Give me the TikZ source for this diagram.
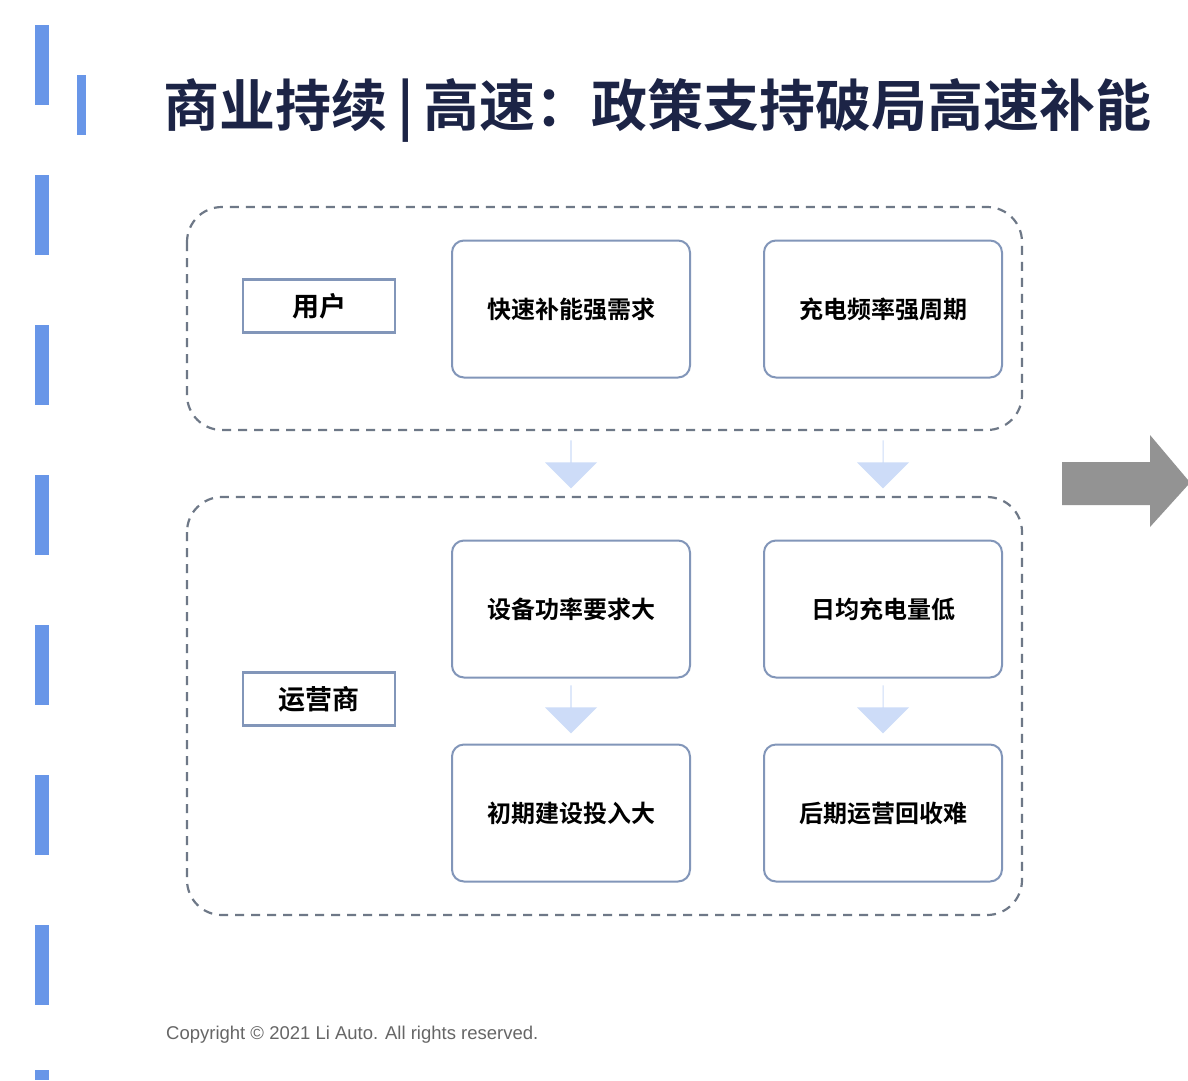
\documentclass[tikz,border=0pt]{standalone}
\usepackage{fontspec}
\setmainfont{Liberation Sans}
\newfontfamily\cjk{Noto Sans CJK SC Bold}
\usetikzlibrary{shapes.arrows}
\definecolor{barblue}{RGB}{104,150,232}
\definecolor{navy}{RGB}{28,36,70}
\definecolor{boxline}{RGB}{130,150,185}
\definecolor{dashgray}{RGB}{110,120,135}
\definecolor{arrblue}{RGB}{205,220,248}
\tikzset{
  grp/.style={draw=dashgray,line width=2.2pt,dash pattern=on 9pt off 7pt,rounded corners=35pt},
  item/.style={draw=boxline,line width=2pt,rounded corners=12pt,minimum width=238pt,minimum height=137pt,font=\cjk\fontsize{24}{28}\selectfont,text=black},
  role/.style={draw=boxline,line width=2.2pt,minimum width=152pt,minimum height=53pt,font=\cjk\fontsize{27}{30}\selectfont,text=black},
  down/.style={single arrow,fill=arrblue,draw=none,shape border rotate=270,minimum width=52pt,single arrow head extend=10pt,minimum height=48pt,inner sep=0pt,single arrow head indent=0pt}
}
\begin{document}
\begin{tikzpicture}[x=1pt,y=-1pt]
\useasboundingbox (0,0) rectangle (1188,1080);
\fill[white] (0,0) rectangle (1188,1080);
\foreach \y in {25,175,325,475,625,775,925,1070}
  \fill[barblue] (35,\y) rectangle (49,{min(\y+80,1080)});
\fill[barblue] (77,75) rectangle (86,135);
\node[anchor=west,text=navy,font=\cjk\fontsize{56}{60}\selectfont,inner sep=0] (title) at (163,110) {商业持续\hspace{10pt}|\hspace{10pt}高速：政策支持破局高速补能};
\draw[grp] (187,207) rectangle (1022,430);
\draw[grp] (187,497) rectangle (1022,915);
\node[role] (user) at (319,306) {用户};
\node[role] (op) at (319,699) {运营商};
\node[item] (a1) at (571,309) {快速补能强需求};
\node[item] (a2) at (883,309) {充电频率强周期};
\node[item] (b1) at (571,609) {设备功率要求大};
\node[item] (b2) at (883,609) {日均充电量低};
\node[item] (c1) at (571,813) {初期建设投入大};
\node[item] (c2) at (883,813) {后期运营回收难};
\node[down] (d1) at (571,464) {};
\node[down] (d2) at (883,464) {};
\node[down] (d3) at (571,709) {};
\node[down] (d4) at (883,709) {};
\fill[gray!85] (1062,462) -- (1150,462) -- (1150,435) -- (1188,480) -- (1188,485) -- (1150,527) -- (1150,505) -- (1062,505) -- cycle;
\node[anchor=west,text=gray!80!black,font=\fontsize{18.5}{20}\selectfont,inner sep=0] (copy) at (166,1035) {Copyright © 2021 Li Auto. All rights reserved.};
\end{tikzpicture}
\end{document}
